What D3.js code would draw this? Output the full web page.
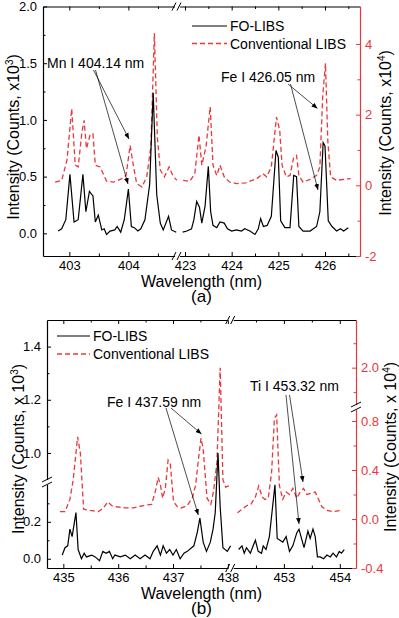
<!DOCTYPE html>
<html>
<head>
<meta charset="utf-8">
<script src="https://cdn.jsdelivr.net/npm/d3@7"></script>
<style>
  body { margin: 0; background: #fff; }
  text { font-family: "Liberation Sans", Arial, sans-serif; }
</style>
</head>
<body>
<div id="chart-area"></div>
<script>
// ---- panel (a) : FO-LIBS (x10^3, left axis) and conventional LIBS (x10^4, right axis)
var foA1 = [[402.81,0.02],[402.87,0.04],[402.94,0.12],[403.01,0.52],[403.08,0.10],[403.15,0.12],[403.23,0.52],[403.28,0.19],[403.34,0.37],[403.40,0.33],[403.44,0.10],[403.49,0.16],[403.55,0.03],[403.59,0.04],[403.63,-0.01],[403.69,0.02],[403.77,0.03],[403.81,0.06],[403.87,0.01],[403.93,0.12],[404.00,0.39],[404.05,0.06],[404.10,0.05],[404.16,0.02],[404.21,0.04],[404.28,0.12],[404.36,0.43],[404.42,1.24],[404.48,0.34],[404.54,0.09],[404.59,0.03],[404.68,0.15],[404.73,0.03],[404.81,0.01]];
var foA2 = [[422.95,0.01],[423.04,0.02],[423.14,0.04],[423.19,0.12],[423.25,0.28],[423.31,0.23],[423.36,0.09],[423.43,0.24],[423.50,0.59],[423.55,0.19],[423.60,0.07],[423.68,0.05],[423.75,0.10],[423.84,0.09],[423.91,0.04],[424.00,0.02],[424.10,0.03],[424.21,0.02],[424.28,0.04],[424.39,0.02],[424.50,-0.01],[424.57,0.04],[424.62,0.13],[424.68,0.06],[424.76,0.07],[424.85,0.15],[424.95,0.73],[425.00,0.67],[425.05,0.11],[425.14,0.05],[425.25,0.05],[425.33,0.51],[425.39,0.50],[425.44,0.06],[425.53,0.02],[425.68,0.02],[425.82,0.06],[425.89,0.19],[425.96,0.80],[426.00,0.77],[426.07,0.11],[426.15,0.06],[426.25,0.02],[426.33,0.04],[426.40,0.02],[426.50,0.05]];
var convA1 = [[402.76,0.09],[402.87,0.14],[402.96,0.71],[403.04,2.17],[403.10,0.57],[403.15,0.52],[403.21,1.46],[403.25,1.84],[403.29,1.04],[403.35,1.42],[403.40,1.46],[403.44,0.57],[403.52,0.52],[403.63,0.12],[403.75,0.09],[403.89,0.19],[403.96,0.28],[404.03,1.13],[404.08,0.60],[404.14,0.05],[404.23,-0.05],[404.31,0.24],[404.38,1.09],[404.44,4.30],[404.49,1.37],[404.54,0.43],[404.61,0.24],[404.69,0.52],[404.75,0.28],[404.82,0.14]];
var convA2 = [[422.96,0.14],[423.10,0.11],[423.21,0.33],[423.30,1.42],[423.36,0.57],[423.45,1.09],[423.54,2.22],[423.60,0.57],[423.68,0.28],[423.75,0.57],[423.84,0.24],[423.96,0.09],[424.10,0.05],[424.30,0.07],[424.54,0.19],[424.67,0.33],[424.75,0.24],[424.85,0.52],[424.96,1.93],[425.03,1.56],[425.08,0.57],[425.17,0.24],[425.25,0.28],[425.33,0.80],[425.39,0.85],[425.44,0.28],[425.53,0.09],[425.68,0.17],[425.82,0.28],[425.89,0.52],[425.95,2.50],[426.01,3.45],[426.06,1.27],[426.12,0.24],[426.25,0.14],[426.40,0.17],[426.55,0.19]];

// ---- panel (b)
var foB1 = [[434.98,0.02],[435.03,0.06],[435.08,0.07],[435.12,0.16],[435.16,0.12],[435.23,0.25],[435.27,0.05],[435.33,0.00],[435.38,0.03],[435.42,0.01],[435.52,0.02],[435.58,0.01],[435.66,-0.01],[435.72,0.04],[435.78,0.03],[435.84,0.04],[435.90,0.00],[435.94,0.02],[436.04,0.01],[436.13,0.02],[436.22,0.00],[436.31,0.02],[436.40,0.00],[436.49,0.02],[436.58,0.00],[436.64,0.04],[436.71,0.07],[436.77,0.02],[436.82,0.07],[436.88,0.03],[436.94,0.05],[437.00,0.02],[437.06,0.05],[437.13,0.00],[437.20,0.03],[437.26,0.04],[437.38,0.07],[437.44,0.14],[437.49,0.22],[437.55,0.09],[437.61,0.04],[437.68,0.09],[437.73,0.16],[437.77,0.25],[437.82,1.00],[437.86,0.28],[437.91,0.06],[437.99,0.04],[438.05,0.07]];
var foB2 = [[452.19,0.05],[452.25,0.07],[452.29,0.03],[452.33,0.06],[452.40,0.03],[452.45,0.07],[452.49,0.10],[452.54,0.04],[452.60,0.03],[452.63,0.07],[452.68,0.05],[452.74,0.12],[452.84,0.40],[452.88,0.11],[452.93,0.10],[452.98,0.09],[453.04,0.12],[453.10,0.04],[453.16,0.07],[453.23,0.14],[453.27,0.16],[453.36,0.06],[453.43,0.15],[453.47,0.11],[453.52,0.16],[453.56,0.12],[453.60,0.01],[453.65,0.01],[453.71,0.00],[453.77,0.02],[453.83,0.01],[453.88,0.03],[453.94,0.01],[453.99,0.04],[454.03,0.03],[454.08,0.05]];
var convB1 = [[434.94,0.06],[435.03,0.06],[435.12,0.16],[435.18,0.32],[435.26,0.67],[435.31,0.54],[435.37,0.08],[435.49,0.07],[435.64,0.06],[435.73,0.09],[435.81,0.14],[435.88,0.11],[435.97,0.10],[436.13,0.09],[436.28,0.09],[436.46,0.11],[436.61,0.12],[436.68,0.23],[436.73,0.34],[436.77,0.28],[436.81,0.17],[436.86,0.25],[436.91,0.48],[436.95,0.45],[437.01,0.14],[437.08,0.10],[437.15,0.09],[437.26,0.11],[437.35,0.17],[437.41,0.27],[437.47,0.51],[437.51,0.66],[437.55,0.57],[437.62,0.17],[437.69,0.12],[437.74,0.23],[437.80,0.46],[437.86,2.00],[437.91,0.32],[437.96,0.26],[438.02,0.27]];
var convB2 = [[452.17,0.05],[452.25,0.08],[452.34,0.11],[452.41,0.12],[452.49,0.18],[452.55,0.27],[452.61,0.18],[452.66,0.16],[452.72,0.17],[452.78,0.38],[452.83,0.82],[452.87,0.85],[452.92,0.27],[452.98,0.16],[453.04,0.22],[453.10,0.20],[453.16,0.25],[453.23,0.17],[453.29,0.22],[453.35,0.25],[453.41,0.20],[453.48,0.21],[453.56,0.22],[453.62,0.16],[453.68,0.10],[453.77,0.07],[453.88,0.06],[454.03,0.07]];

// tick values
var xTicksA = [403, 404, 423, 424, 425, 426];
var xMinorA = [403.5, 404.5, 423.5, 424.5, 425.5, 426.5];
var yLTicksA = [0, 0.5, 1.0, 1.5, 2.0];
var yLMinorA = [0.25, 0.75, 1.25, 1.75];
var yRTicksA = [-2, 0, 2, 4];
var yRMinorA = [-1, 1, 3];
var xTicksB = [435, 436, 437, 438, 453, 454];
var xMinorB = [435.5, 436.5, 437.5, 452.5, 453.5];
var yLTicksB = [0, 0.2, 1.0, 1.2, 1.4];
var yLMinorB = [0.1, 0.3, 1.1, 1.3];
var yRTicksB = [-0.4, 0, 0.4, 0.8, 2.0];
var yRMinorB = [-0.2, 0.2, 0.6, 1.8, 2.2];

var RED = "#e8383d";

var svg = d3.select("#chart-area")
  .append("svg")
  .attr("width", 399)
  .attr("height", 618)
  .style("display", "block");

svg.append("defs").append("marker")
  .attr("id", "arrow")
  .attr("viewBox", "0 0 10 10")
  .attr("refX", 10).attr("refY", 5)
  .attr("markerWidth", 6).attr("markerHeight", 6)
  .attr("markerUnits", "userSpaceOnUse")
  .attr("orient", "auto")
  .append("path")
  .attr("d", "M0,1 L10,5 L0,9 Z")
  .attr("fill", "#000");

// broken axes: piecewise scales, the gap collapses onto one pixel
var panels = [
  {
    left: 43, right: 360, top: 6.5, bottom: 256,
    x: d3.scaleLinear().domain([402.554, 404.84, 422.85, 426.75]).range([43, 178, 178, 360]),
    yL: d3.scaleLinear().domain([-0.2, 2.0]).range([256, 6.5]),
    yR: d3.scaleLinear().domain([-2, 5.06]).range([256, 6.5]),
    fo: [foA1, foA2], conv: [convA1, convA2],
    xTicks: xTicksA, xMinor: xMinorA,
    yLTicks: yLTicksA, yLMinor: yLMinorA, yRTicks: yRTicksA, yRMinor: yRMinorA,
    yLFmt: d => d.toFixed(1), yRFmt: d => String(d),
    xBreak: 178, yLBreak: null, yRBreak: null,
    leftTitle: ["Intensity (Counts, x10", "3", ")"], rightTitle: ["Intensity (Counts, x10", "4", ")"],
    leftTitlePos: [19, 137], rightTitlePos: [390.5, 133],
    legend: { x1: 192, x2: 227, tx: 230, y1: 26, y2: 43.5 },
    tag: "(a)",
    notes: [
      { text: "Mn I 404.14 nm", x: 47, y: 68, arrows: [[93.5, 70, 129, 139], [95.5, 70, 128, 184]] },
      { text: "Fe I 426.05 nm", x: 221, y: 81.5, arrows: [[288, 84, 317.5, 108.5], [290.5, 84, 318, 190]] }
    ]
  },
  {
    left: 47, right: 356, top: 320, bottom: 568,
    x: d3.scaleLinear().domain([434.702, 438.07, 452.066, 454.29]).range([47, 231.7, 231.7, 356]),
    yL: d3.scaleLinear().domain([-0.05, 0.41, 0.887, 1.5]).range([568, 483, 483, 320]),
    yR: d3.scaleLinear().domain([-0.4, 0.906, 1.67, 2.39]).range([568, 408, 408, 320]),
    fo: [foB1, foB2], conv: [convB1, convB2],
    xTicks: xTicksB, xMinor: xMinorB,
    yLTicks: yLTicksB, yLMinor: yLMinorB, yRTicks: yRTicksB, yRMinor: yRMinorB,
    yLFmt: d => d.toFixed(1), yRFmt: d => d.toFixed(1),
    xBreak: 231.7, yLBreak: 483, yRBreak: 408,
    leftTitle: ["Intensity (Counts, x 10", "3", ")"], rightTitle: ["Intensity (Counts, x 10", "4", ")"],
    leftTitlePos: [24, 449], rightTitlePos: [395.5, 447],
    legend: { x1: 57, x2: 90, tx: 93, y1: 336, y2: 354 },
    tag: "(b)",
    notes: [
      { text: "Fe I 437.59 nm", x: 107, y: 406.5, arrows: [[166, 408, 198.3, 515], [171, 408, 201.5, 434]] },
      { text: "Ti I 453.32 nm", x: 250, y: 391, arrows: [[286, 395, 299, 524], [289.5, 395, 303, 482]] }
    ]
  }
];

function styleAxis(sel, color, size) {
  sel.selectAll("text")
    .attr("font-family", "'Liberation Sans', Arial, sans-serif")
    .attr("font-size", size)
    .attr("fill", color);
  sel.selectAll("line").attr("stroke", color);
  sel.selectAll(".domain").attr("stroke", color).attr("stroke-width", 1.2);
}

function minor(g, axis, color) {
  g.call(axis.tickSizeInner(-2.5).tickSizeOuter(0).tickFormat(""));
  g.select(".domain").remove();
  g.selectAll("line").attr("stroke", color);
}

panels.forEach(p => {
  var g = svg.append("g");

  var lineL = d3.line().x(d => p.x(d[0])).y(d => p.yL(d[1]));
  var lineR = d3.line().x(d => p.x(d[0])).y(d => p.yR(d[1]));

  p.conv.forEach(seg => {
    g.append("path").datum(seg)
      .attr("d", lineR)
      .attr("fill", "none")
      .attr("stroke", RED)
      .attr("stroke-width", 1.3)
      .attr("stroke-dasharray", "5,3");
  });
  p.fo.forEach(seg => {
    g.append("path").datum(seg)
      .attr("d", lineL)
      .attr("fill", "none")
      .attr("stroke", "#000")
      .attr("stroke-width", 1.2);
  });

  // bottom x axis
  g.append("g")
    .attr("transform", "translate(0," + p.bottom + ")")
    .call(d3.axisBottom(p.x).tickValues(p.xTicks).tickSizeInner(-4).tickSizeOuter(0).tickPadding(5).tickFormat(d3.format("d")))
    .call(s => styleAxis(s, "#000", 13));
  minor(g.append("g").attr("transform", "translate(0," + p.bottom + ")"), d3.axisBottom(p.x).tickValues(p.xMinor), "#000");

  // top mirror axis
  g.append("g")
    .attr("transform", "translate(0," + p.top + ")")
    .call(d3.axisTop(p.x).tickValues(p.xTicks).tickSizeInner(-4).tickSizeOuter(0).tickFormat(""))
    .call(s => styleAxis(s, "#000", 13));
  minor(g.append("g").attr("transform", "translate(0," + p.top + ")"), d3.axisTop(p.x).tickValues(p.xMinor), "#000");

  // left axis
  g.append("g")
    .attr("transform", "translate(" + p.left + ",0)")
    .call(d3.axisLeft(p.yL).tickValues(p.yLTicks).tickSizeInner(-4).tickSizeOuter(0).tickPadding(6).tickFormat(p.yLFmt))
    .call(s => styleAxis(s, "#000", 13));
  minor(g.append("g").attr("transform", "translate(" + p.left + ",0)"), d3.axisLeft(p.yL).tickValues(p.yLMinor), "#000");

  // right axis (red)
  g.append("g")
    .attr("transform", "translate(" + p.right + ",0)")
    .call(d3.axisRight(p.yR).tickValues(p.yRTicks).tickSizeInner(-4).tickSizeOuter(0).tickPadding(5).tickFormat(p.yRFmt))
    .call(s => styleAxis(s, RED, 13));
  minor(g.append("g").attr("transform", "translate(" + p.right + ",0)"), d3.axisRight(p.yR).tickValues(p.yRMinor), RED);

  // break marks
  [p.bottom, p.top].forEach(yy => {
    g.append("rect").attr("x", p.xBreak - 3).attr("y", yy - 1.5).attr("width", 5).attr("height", 3).attr("fill", "#fff");
    g.append("line").attr("x1", p.xBreak - 6).attr("y1", yy + 4).attr("x2", p.xBreak - 2).attr("y2", yy - 4).attr("stroke", "#000");
    g.append("line").attr("x1", p.xBreak - 1).attr("y1", yy + 4).attr("x2", p.xBreak + 3).attr("y2", yy - 4).attr("stroke", "#000");
  });
  [[p.left, p.yLBreak], [p.right, p.yRBreak]].forEach(b => {
    if (b[1] == null) return;
    g.append("rect").attr("x", b[0] - 1.5).attr("y", b[1] - 3).attr("width", 3).attr("height", 5).attr("fill", "#fff");
    g.append("line").attr("x1", b[0] - 5).attr("y1", b[1] - 1).attr("x2", b[0] + 5).attr("y2", b[1] - 6).attr("stroke", "#000");
    g.append("line").attr("x1", b[0] - 5).attr("y1", b[1] + 4).attr("x2", b[0] + 5).attr("y2", b[1] - 1).attr("stroke", "#000");
  });

  // axis titles
  g.append("text")
    .attr("x", (p.left + p.right) / 2)
    .attr("y", p.bottom + 31)
    .attr("text-anchor", "middle")
    .attr("font-size", "16px")
    .text("Wavelength (nm)");
  g.append("text")
    .attr("x", (p.left + p.right) / 2)
    .attr("y", p.bottom + 46)
    .attr("text-anchor", "middle")
    .attr("font-size", "17px")
    .text(p.tag);

  [[p.leftTitle, p.leftTitlePos], [p.rightTitle, p.rightTitlePos]].forEach(t => {
    var txt = g.append("text")
      .attr("transform", "translate(" + t[1][0] + "," + t[1][1] + ") rotate(-90)")
      .attr("text-anchor", "middle")
      .attr("font-size", "16px");
    txt.append("tspan").text(t[0][0]);
    txt.append("tspan").attr("dy", -6).attr("font-size", "10px").text(t[0][1]);
    txt.append("tspan").attr("dy", 6).text(t[0][2]);
  });

  // legend
  var L = p.legend;
  g.append("line").attr("x1", L.x1).attr("x2", L.x2).attr("y1", L.y1).attr("y2", L.y1)
    .attr("stroke", "#000").attr("stroke-width", 1.2);
  g.append("text").attr("x", L.tx).attr("y", L.y1 + 5).attr("font-size", "14px").text("FO-LIBS");
  g.append("line").attr("x1", L.x1).attr("x2", L.x2).attr("y1", L.y2).attr("y2", L.y2)
    .attr("stroke", RED).attr("stroke-width", 1.3).attr("stroke-dasharray", "5,3");
  g.append("text").attr("x", L.tx).attr("y", L.y2 + 5).attr("font-size", "14px").text("Conventional LIBS");

  // line annotations
  p.notes.forEach(n => {
    g.append("text").attr("x", n.x).attr("y", n.y).attr("font-size", "14px").text(n.text);
    n.arrows.forEach(a => {
      g.append("line")
        .attr("x1", a[0]).attr("y1", a[1]).attr("x2", a[2]).attr("y2", a[3])
        .attr("stroke", "#000").attr("stroke-width", 0.7)
        .attr("marker-end", "url(#arrow)");
    });
  });
});
</script>
</body>
</html>
